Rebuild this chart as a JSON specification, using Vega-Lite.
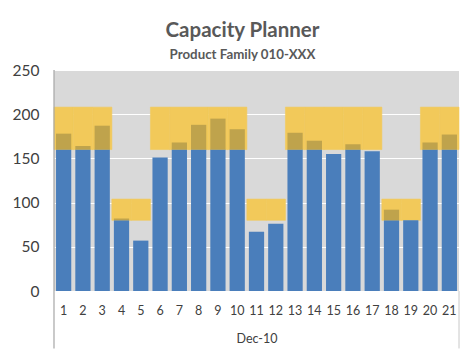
{
  "$schema": "https://vega.github.io/schema/vega-lite/v6.json",
  "width": 405,
  "height": 221,
  "autosize": {"type": "none"},
  "padding": {"left": 54, "top": 70, "right": 15, "bottom": 60},
  "background": "white",
  "config": {
    "view": {"fill": "#D9D9D9", "stroke": null},
    "font": "Lato"
  },
  "title": {
    "text": "Capacity Planner",
    "subtitle": "Product Family 010-XXX",
    "anchor": "middle",
    "dx": -14,
    "fontSize": 20.5,
    "fontWeight": "bold",
    "color": "#595959",
    "subtitleFontSize": 13.3,
    "subtitleFontWeight": "bold",
    "subtitleColor": "#595959",
    "subtitlePadding": 6,
    "offset": 2
  },
  "data": {
    "values": [
      {"day": 1, "load": 178, "within": 160, "capLow": 160, "capHigh": 208},
      {"day": 2, "load": 164, "within": 160, "capLow": 160, "capHigh": 208},
      {"day": 3, "load": 187, "within": 160, "capLow": 160, "capHigh": 208},
      {"day": 4, "load": 82, "within": 80, "capLow": 80, "capHigh": 104},
      {"day": 5, "load": 57, "within": 57, "capLow": 80, "capHigh": 104},
      {"day": 6, "load": 151, "within": 151, "capLow": 160, "capHigh": 208},
      {"day": 7, "load": 168, "within": 160, "capLow": 160, "capHigh": 208},
      {"day": 8, "load": 188, "within": 160, "capLow": 160, "capHigh": 208},
      {"day": 9, "load": 195, "within": 160, "capLow": 160, "capHigh": 208},
      {"day": 10, "load": 183, "within": 160, "capLow": 160, "capHigh": 208},
      {"day": 11, "load": 67, "within": 67, "capLow": 80, "capHigh": 104},
      {"day": 12, "load": 76, "within": 76, "capLow": 80, "capHigh": 104},
      {"day": 13, "load": 179, "within": 160, "capLow": 160, "capHigh": 208},
      {"day": 14, "load": 170, "within": 160, "capLow": 160, "capHigh": 208},
      {"day": 15, "load": 155, "within": 155, "capLow": 160, "capHigh": 208},
      {"day": 16, "load": 166, "within": 160, "capLow": 160, "capHigh": 208},
      {"day": 17, "load": 158, "within": 158, "capLow": 160, "capHigh": 208},
      {"day": 18, "load": 92, "within": 80, "capLow": 80, "capHigh": 104},
      {"day": 19, "load": 80, "within": 80, "capLow": 80, "capHigh": 104},
      {"day": 20, "load": 168, "within": 160, "capLow": 160, "capHigh": 208},
      {"day": 21, "load": 177, "within": 160, "capLow": 160, "capHigh": 208}
    ]
  },
  "encoding": {
    "x": {
      "field": "day",
      "type": "ordinal",
      "scale": {"type": "band", "paddingInner": 0, "paddingOuter": 0},
      "axis": {
        "labelAngle": 0,
        "ticks": false,
        "domain": false,
        "labelFontSize": 12.5,
        "labelColor": "#404040",
        "labelPadding": 13,
        "title": "Dec-10",
        "titleFontSize": 12.5,
        "titleFontWeight": "normal",
        "titleColor": "#404040",
        "titlePadding": 16
      }
    }
  },
  "layer": [
    {
      "mark": {"type": "bar", "color": "#F2C95A", "stroke": "#F2C95A", "strokeWidth": 0.6},
      "encoding": {
        "y": {
          "field": "capLow",
          "type": "quantitative",
          "scale": {"domain": [0, 250], "nice": false},
          "axis": {
            "values": [0, 50, 100, 150, 200, 250],
            "grid": true,
            "gridColor": "white",
            "gridWidth": 1.2,
            "domain": false,
            "ticks": false,
            "labelFontSize": 15.5,
            "labelColor": "#404040",
            "labelPadding": 15,
            "title": null
          }
        },
        "y2": {"field": "capHigh"}
      }
    },
    {
      "mark": {"type": "bar", "color": "#4A7EBB", "width": {"band": 0.79}},
      "encoding": {
        "y": {"field": "within", "type": "quantitative", "title": null}
      }
    },
    {
      "mark": {"type": "bar", "color": "#BFA34C", "width": {"band": 0.79}},
      "encoding": {
        "y": {"field": "within", "type": "quantitative", "title": null},
        "y2": {"field": "load"}
      }
    },
    {
      "data": {"values": [{"edge": 1}]},
      "mark": {"type": "rule", "color": "#A6A6A6", "strokeWidth": 1.2},
      "encoding": {
        "x": {"field": "edge", "type": "ordinal", "bandPosition": 0},
        "y": {"datum": 250, "type": "quantitative", "title": null},
        "y2": {"datum": -65}
      }
    },
    {
      "data": {"values": [{"edge": 21}]},
      "mark": {"type": "rule", "color": "#C8C8C8", "strokeWidth": 1},
      "encoding": {
        "x": {"field": "edge", "type": "ordinal", "bandPosition": 1},
        "y": {"datum": 0, "type": "quantitative", "title": null},
        "y2": {"datum": -65}
      }
    }
  ]
}
